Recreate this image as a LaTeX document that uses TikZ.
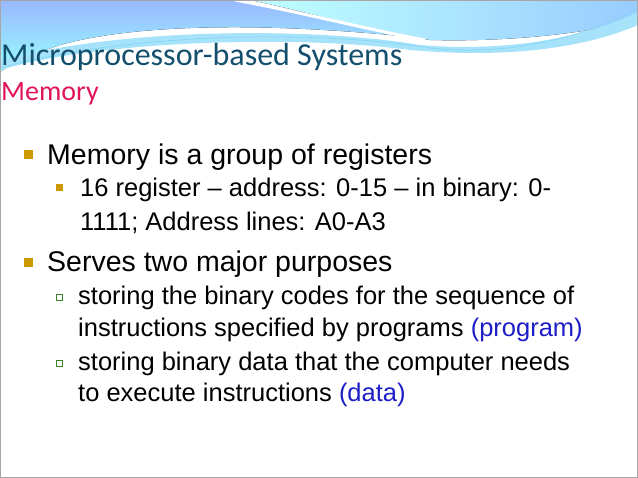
\documentclass[tikz,border=0pt]{standalone}
\usepackage{fontspec}
\setmainfont{Liberation Sans}
\newfontfamily\calib{Carlito}
\begin{document}
\begin{tikzpicture}[x=1pt,y=-1pt,
  body/.style={anchor=base west,inner sep=0pt,font=\fontsize{28.5}{32}\selectfont},
  sub/.style={anchor=base west,inner sep=0pt,font=\fontsize{25.5}{29}\selectfont,align=left},
  sq/.style={fill=bulletgold,draw=none},
  hsq/.style={draw=bulletgreen,fill=white,line width=0.6pt}]
\definecolor{bulletgold}{RGB}{204,153,0}
\definecolor{bulletgreen}{RGB}{60,130,40}
\definecolor{titleblue}{RGB}{20,80,110}
\definecolor{memred}{RGB}{225,20,90}
\definecolor{progblue}{RGB}{30,30,200}
\useasboundingbox (0,0) rectangle (638,478);
\fill[white] (0,0) rectangle (638,478);
% waves
\fill[top color=cyan!30!blue!40,bottom color=cyan!40] (0,0) -- (235,0) .. controls (300,10) and (380,30) .. (420,38)
  .. controls (300,25) and (150,20) .. (60,45) .. controls (30,55) and (10,65) .. (0,72) -- cycle;
\fill[left color=cyan!25,right color=cyan!50!blue!40] (250,0) -- (638,0) -- (638,20) .. controls (580,35) and (500,42) .. (430,40)
  .. controls (360,28) and (300,10) .. (250,0) -- cycle;
\fill[cyan!35] (0,62) .. controls (100,30) and (300,25) .. (420,45) .. controls (500,52) and (580,40) .. (638,12) -- (638,25)
  .. controls (580,50) and (500,58) .. (410,50) .. controls (300,35) and (100,40) .. (0,70) -- cycle;
\draw[cyan!50,line width=0.6pt] (0,68) .. controls (120,35) and (300,28) .. (430,48) .. controls (520,58) and (600,30) .. (638,8);
\draw[white,line width=3pt] (235,0) .. controls (300,12) and (370,30) .. (425,40);
\draw[gray!70,line width=0.8pt] (0.5,0.5) rectangle (637.5,477.5);
% title
\node[anchor=base west,inner sep=0pt,text=titleblue,font=\calib\fontsize{32}{36}\selectfont] (title) at (1,66) {Microprocessor-based Systems};
\node[anchor=base west,inner sep=0pt,text=memred,font=\calib\fontsize{28}{32}\selectfont] (subt) at (1,101) {Memory};
% bullets
\fill[sq] (24,150) rectangle (33,159);
\node[body] (b1) at (47,165) {Memory is a group of registers};
\fill[sq] (56,184) rectangle (63,191);
\node[sub] (b11) at (80,197) {16 register -- address: 0-15 -- in binary: 0-};
\node[sub] (b12) at (80,231) {1111; Address lines: A0-A3};
\fill[sq] (24,258) rectangle (33,267);
\node[body] (b2) at (47,272) {Serves two major purposes};
\draw[hsq] (56,294) rectangle (62,300);
\node[sub] (b21) at (78,305) {storing the binary codes for the sequence of};
\node[sub] (b22) at (78,337) {instructions specified by programs \textcolor{progblue}{(program)}};
\draw[hsq] (56,360) rectangle (62,366);
\node[sub] (b23) at (78,371) {storing binary data that the computer needs};
\node[sub] (b24) at (78,402) {to execute instructions \textcolor{progblue}{(data)}};
\end{tikzpicture}
\end{document}
